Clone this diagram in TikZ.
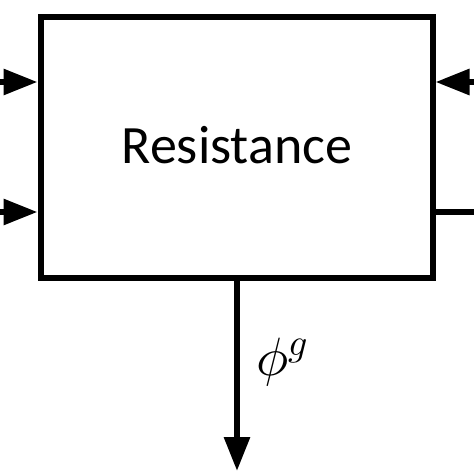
\documentclass[tikz,border=0pt]{standalone}
\usepackage{fontspec}
\usepackage{unicode-math}
\setmainfont{Carlito}
\setmathfont{Latin Modern Math}
\usetikzlibrary{arrows.meta}
\tikzset{
  blk/.style={draw=black, line width=6pt, minimum width=392pt, minimum height=261pt, inner sep=0pt},
  flow/.style={line width=6pt, -{Triangle[length=34pt,width=25pt]}},
  plain/.style={line width=6pt},
  lbl/.style={inner sep=0pt, font=\fontsize{54}{60}\selectfont}
}
\begin{document}
\begin{tikzpicture}[x=1pt,y=-1pt]
\useasboundingbox (0,0) rectangle (474,474);
\node[blk] (box) at (236.5,147.5) {};
\node[inner sep=0pt, font=\fontsize{54}{60}\selectfont, anchor=base] (txt) at (237,163) {Resistance};
\coordinate (l1) at (0,82);
\coordinate (l2) at (0,212);
\coordinate (r1) at (474,82);
\coordinate (r2) at (474,212);
\coordinate (bot) at (237,471);
\draw[flow] (l1) -- (l1 -| box.west);
\draw[flow] (l2) -- (l2 -| box.west);
\draw[flow] (r1) -- (r1 -| box.east);
\draw[plain] (box.east |- r2) -- (r2);
\draw[flow] (box.south -| bot) -- (bot);
\node[lbl] (phi) at (282,362) {$\phi^g$};
\end{tikzpicture}
\end{document}
